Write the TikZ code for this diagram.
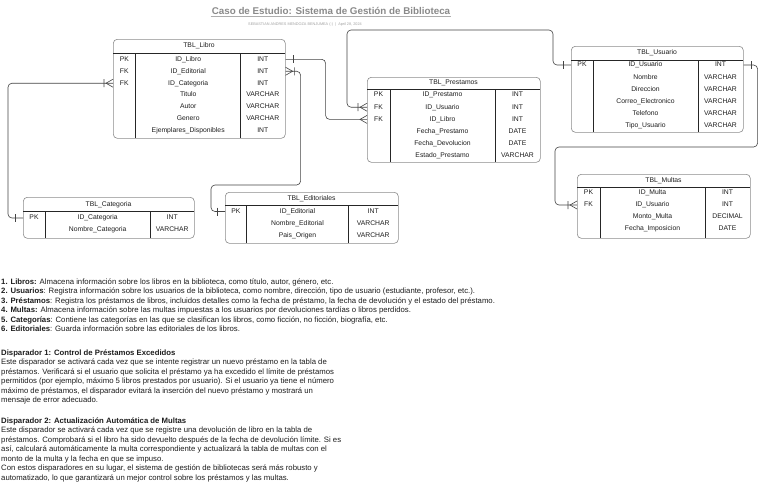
\documentclass[tikz,border=0pt]{standalone}
\usepackage{fontspec}
\setmainfont{Liberation Sans}
\usetikzlibrary{positioning}
\definecolor{linea}{HTML}{444444}
\definecolor{borde}{HTML}{8C8C8C}
\definecolor{texto}{HTML}{1E1E1E}
\definecolor{gristit}{HTML}{8A8A8A}

\tikzset{
  tabla/.style={draw=borde, line width=0.6pt, rounded corners=4pt, inner sep=0pt, anchor=north west},
  celda/.style={font=\fontsize{6.8}{7}\selectfont, text=texto, inner sep=0pt, text height=5pt, text depth=1.4pt},
  sep/.style={draw=black!85, line width=0.7pt},
  rel/.style={draw=linea, line width=0.6pt, rounded corners=4pt},
  cuerpo/.style={font=\fontsize{7.75}{9.5}\selectfont, text=texto, inner sep=0pt, align=left, anchor=north west},
  uno/.pic={\draw[draw=linea, line width=0.6pt] (-8,-4) -- (-8,4);},
  muchos/.pic={\draw[draw=linea, line width=0.6pt] (0,-4) -- (-7,0) -- (0,4);},
  variosuno/.pic={\draw[draw=linea, line width=0.6pt] (0,-4) -- (-7,0) -- (0,4) (-9,-4) -- (-9,4);},
}

\begin{document}
\begin{tikzpicture}[x=1pt, y=-1pt]
     \useasboundingbox[fill=white] (0,0) rectangle (768,493);
     % titulo
     \node[font=\fontsize{9.8}{11}\bfseries, text=gristit, inner sep=1pt] (titulo) at (331,11) {Caso de Estudio: Sistema de Gestión de Biblioteca};
     \draw[gristit!70, line width=0.5pt] (titulo.south west) -- (titulo.south east);
     \node[font=\fontsize{3.8}{4}\selectfont, text=gristit!80, inner sep=0pt] (autor) at (305,25) {SEBASTIAN ANDRES MENDOZA BENJUMEA (-) \ | \ April 28, 2024};

     % TBL_Libro
     \node[tabla, minimum width=172pt, minimum height=99pt] (libro) at (113,39) {};
     \node[celda] (libro-t) at (199,46) {TBL\_Libro};
     \draw[sep] (113,53) -- (285,53) (135.7,53) -- (135.7,138) (240.7,53) -- (240.7,138);
     \foreach \k/\n/\t [count=\i] in {PK/ID\_Libro/INT, FK/ID\_Editorial/INT, FK/ID\_Categoria/INT, /Titulo/VARCHAR, /Autor/VARCHAR, /Genero/VARCHAR, /Ejemplares\_Disponibles/INT}{
       \node[celda] (libro-k\i) at (124.3,{59.3+11.95*(\i-1)}) {\k};
       \node[celda] (libro-n\i) at (188.2,{59.3+11.95*(\i-1)}) {\n};
       \node[celda] (libro-d\i) at (262.8,{59.3+11.95*(\i-1)}) {\t};
     }

     % TBL_Prestamos
     \node[tabla, minimum width=173pt, minimum height=85pt] (prestamos) at (367,77) {};
     \node[celda] (prestamos-t) at (453.5,83) {TBL\_Prestamos};
     \draw[sep] (367,89) -- (540,89) (390,89) -- (390,162) (495,89) -- (495,162);
     \foreach \k/\n/\t [count=\i] in {PK/ID\_Prestamo/INT, FK/ID\_Usuario/INT, FK/ID\_Libro/INT, /Fecha\_Prestamo/DATE, /Fecha\_Devolucion/DATE, /Estado\_Prestamo/VARCHAR}{
       \node[celda] (prestamos-k\i) at (378.5,{95+12.2*(\i-1)}) {\k};
       \node[celda] (prestamos-n\i) at (442.5,{95+12.2*(\i-1)}) {\n};
       \node[celda] (prestamos-d\i) at (517.5,{95+12.2*(\i-1)}) {\t};
     }

     % TBL_Usuario
     \node[tabla, minimum width=172pt, minimum height=86pt] (usuario) at (571,46) {};
     \node[celda] (usuario-t) at (657,53) {TBL\_Usuario};
     \draw[sep] (571,60) -- (743,60) (593,60) -- (593,132) (698,60) -- (698,132);
     \foreach \k/\n/\t [count=\i] in {PK/ID\_Usuario/INT, /Nombre/VARCHAR, /Direccion/VARCHAR, /Correo\_Electronico/VARCHAR, /Telefono/VARCHAR, /Tipo\_Usuario/VARCHAR}{
       \node[celda] (usuario-k\i) at (582,{65+12.2*(\i-1)}) {\k};
       \node[celda] (usuario-n\i) at (645.5,{65+12.2*(\i-1)}) {\n};
       \node[celda] (usuario-d\i) at (720.5,{65+12.2*(\i-1)}) {\t};
     }

     % TBL_Multas
     \node[tabla, minimum width=173pt, minimum height=64pt] (multas) at (577,174) {};
     \node[celda] (multas-t) at (663.5,180.5) {TBL\_Multas};
     \draw[sep] (577,187) -- (750,187) (600,187) -- (600,238) (705,187) -- (705,238);
     \foreach \k/\n/\t [count=\i] in {PK/ID\_Multa/INT, FK/ID\_Usuario/INT, /Monto\_Multa/DECIMAL, /Fecha\_Imposicion/DATE}{
       \node[celda] (multas-k\i) at (588.5,{193+12*(\i-1)}) {\k};
       \node[celda] (multas-n\i) at (652.5,{193+12*(\i-1)}) {\n};
       \node[celda] (multas-d\i) at (727.5,{193+12*(\i-1)}) {\t};
     }

     % TBL_Categoria
     \node[tabla, minimum width=171pt, minimum height=41pt] (categoria) at (23,197) {};
     \node[celda] (categoria-t) at (108.5,204.5) {TBL\_Categoria};
     \draw[sep] (23,211.5) -- (194,211.5) (45,211.5) -- (45,238) (150.5,211.5) -- (150.5,238);
     \foreach \k/\n/\t [count=\i] in {PK/ID\_Categoria/INT, /Nombre\_Categoria/VARCHAR}{
       \node[celda] (categoria-k\i) at (34,{218+12*(\i-1)}) {\k};
       \node[celda] (categoria-n\i) at (97.7,{218+12*(\i-1)}) {\n};
       \node[celda] (categoria-d\i) at (172.2,{218+12*(\i-1)}) {\t};
     }

     % TBL_Editoriales
     \node[tabla, minimum width=173pt, minimum height=51pt] (editoriales) at (225,192) {};
     \node[celda] (editoriales-t) at (311.5,199) {TBL\_Editoriales};
     \draw[sep] (225,205.5) -- (398,205.5) (246.7,205.5) -- (246.7,243) (348.3,205.5) -- (348.3,243);
     \foreach \k/\n/\t [count=\i] in {PK/ID\_Editorial/INT, /Nombre\_Editorial/VARCHAR, /Pais\_Origen/VARCHAR}{
       \node[celda] (editoriales-k\i) at (235.8,{211.5+12.2*(\i-1)}) {\k};
       \node[celda] (editoriales-n\i) at (297.5,{211.5+12.2*(\i-1)}) {\n};
       \node[celda] (editoriales-d\i) at (373.2,{211.5+12.2*(\i-1)}) {\t};
     }

     % relaciones
     \draw[rel] (libro.east |- libro-n1) -- ++(40,0) |- (prestamos.west |- prestamos-n3);
     \pic[xscale=-1] at (libro.east |- libro-n1) {uno};
     \pic at (prestamos.west |- prestamos-n3) {muchos};

     \draw[rel] (usuario.west |- usuario-n1) -- ++(-18,0) |- (347,30) |- (prestamos.west |- prestamos-n2);
     \pic at (usuario.west |- usuario-n1) {uno};
     \pic at (prestamos.west |- prestamos-n2) {variosuno};

     \draw[rel] (usuario.east |- usuario-n1) -- ++(14,0) |- (555,147) |- (multas.west |- multas-n2);
     \pic[xscale=-1] at (usuario.east |- usuario-n1) {uno};
     \pic at (multas.west |- multas-n2) {variosuno};

     \draw[rel] (libro.east |- libro-n2) -- ++(15,0) |- (211,185) |- (editoriales.west |- editoriales-n1);
     \pic[xscale=-1] at (libro.east |- libro-n2) {variosuno};
     \pic at (editoriales.west |- editoriales-n1) {uno};

     \draw[rel] (libro.west |- libro-n3) -| (8,150) |- (categoria.west |- categoria-n1);
     \pic at (libro.west |- libro-n3) {variosuno};
     \pic at (categoria.west |- categoria-n1) {uno};

     % texto
     \node[cuerpo] (resumen) at (1,278.5) {\textbf{1. Libros:} Almacena información sobre los libros en la biblioteca, como título, autor, género, etc.\\
       \textbf{2. Usuarios}: Registra información sobre los usuarios de la biblioteca, como nombre, dirección, tipo de usuario (estudiante, profesor, etc.).\\
       \textbf{3. Préstamos}: Registra los préstamos de libros, incluidos detalles como la fecha de préstamo, la fecha de devolución y el estado del préstamo.\\
       \textbf{4. Multas:} Almacena información sobre las multas impuestas a los usuarios por devoluciones tardías o libros perdidos.\\
       \textbf{5. Categorías}: Contiene las categorías en las que se clasifican los libros, como ficción, no ficción, biografía, etc.\\
       \textbf{6. Editoriales}: Guarda información sobre las editoriales de los libros.};
     \node[cuerpo, below=17pt of resumen.south west, anchor=north west] (disp1) {\textbf{Disparador 1: Control de Préstamos Excedidos}\\
       Este disparador se activará cada vez que se intente registrar un nuevo préstamo en la tabla de\\
       préstamos. Verificará si el usuario que solicita el préstamo ya ha excedido el límite de préstamos\\
       permitidos (por ejemplo, máximo 5 libros prestados por usuario). Si el usuario ya tiene el número\\
       máximo de préstamos, el disparador evitará la inserción del nuevo préstamo y mostrará un\\
       mensaje de error adecuado.};
     \node[cuerpo, below=13pt of disp1.south west, anchor=north west] (disp2) {\textbf{Disparador 2: Actualización Automática de Multas}\\
       Este disparador se activará cada vez que se registre una devolución de libro en la tabla de\\
       préstamos. Comprobará si el libro ha sido devuelto después de la fecha de devolución límite. Si es\\
       así, calculará automáticamente la multa correspondiente y actualizará la tabla de multas con el\\
       monto de la multa y la fecha en que se impuso.\\
       Con estos disparadores en su lugar, el sistema de gestión de bibliotecas será más robusto y\\
       automatizado, lo que garantizará un mejor control sobre los préstamos y las multas.};
\end{tikzpicture}
\end{document}
